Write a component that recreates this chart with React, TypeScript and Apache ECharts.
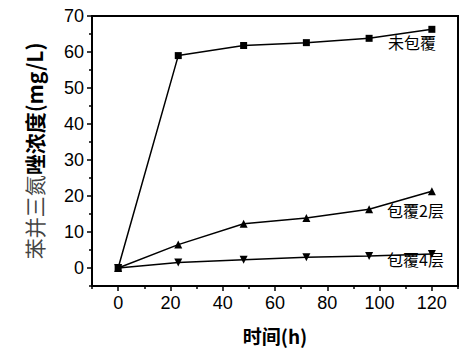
import React, { useEffect, useRef } from "react";
import * as echarts from "echarts";

const hours = [0, 23, 48, 72, 96, 120];
const uncoated = [0, 59.0, 61.8, 62.6, 63.8, 66.3];
const coated2 = [0, 6.5, 12.3, 13.9, 16.3, 21.3];
const coated4 = [0, 1.5, 2.3, 3.0, 3.3, 3.9];
const seriesNames = ["未包覆", "包覆2层", "包覆4层"];
const xMajor = [0, 20, 40, 60, 80, 100, 120];
const xMinor = [-10, 10, 30, 50, 70, 90, 110, 130];
const yMajor = [0, 10, 20, 30, 40, 50, 60, 70];
const yMinor = [-5, 5, 15, 25, 35, 45, 55, 65];

const pair = (ys: number[]) => hours.map((h, i) => [h, ys[i]]);

export default function App() {
  const ref = useRef<HTMLDivElement>(null);
  useEffect(() => {
    if (!ref.current) return;
    const chart = echarts.init(ref.current, undefined, { renderer: "svg" });
    const numFont = "'Liberation Sans', Arial, sans-serif";
    const cjk = "'Noto Sans CJK SC', sans-serif";
    const baseX = {
      type: "value" as const,
      min: -10,
      max: 130,
      splitLine: { show: false },
    };
    const baseY = {
      type: "value" as const,
      min: -5,
      max: 70,
      splitLine: { show: false },
    };
    const lineStyle = { color: "#000", width: 1.5 };
    chart.setOption({
      animation: false,
      backgroundColor: "#fff",
      grid: {
        left: 92,
        right: 15,
        top: 16,
        bottom: 67,
        show: true,
        borderColor: "#000",
        borderWidth: 2,
        backgroundColor: "transparent",
      },
      xAxis: [
        {
          ...baseX,
          position: "bottom",
          name: "时间(h)",
          nameLocation: "middle",
          nameGap: 40,
          nameTextStyle: {
            fontFamily: cjk,
            fontWeight: "bold",
            fontSize: 19,
            color: "#000",
          },
          axisLine: { show: true, onZero: false, lineStyle: { color: "#000", width: 2 } },
          axisTick: {
            show: true,
            inside: false,
            length: 5,
            customValues: xMajor,
            lineStyle: { color: "#000", width: 1.5 },
          },
          axisLabel: {
            customValues: xMajor,
            fontFamily: numFont,
            fontSize: 18,
            color: "#000",
            margin: 8,
          },
        },
        {
          ...baseX,
          position: "bottom",
          axisLine: { show: false, onZero: false },
          axisTick: {
            show: true,
            length: 3,
            customValues: xMinor,
            lineStyle: { color: "#000", width: 1.5 },
          },
          axisLabel: { show: false },
        },
      ],
      yAxis: [
        {
          ...baseY,
          position: "left",
          name: "{a|苯并三氮}{b|唑浓度(mg/L)}",
          nameLocation: "middle",
          nameGap: 48,
          nameTextStyle: {
            fontSize: 21,
            rich: {
              a: { fontFamily: cjk, fontSize: 21, color: "#444", fontWeight: "normal" },
              b: { fontFamily: cjk, fontSize: 21, color: "#000", fontWeight: "bold" },
            },
          },
          axisLine: { show: true, onZero: false, lineStyle: { color: "#000", width: 2 } },
          axisTick: {
            show: true,
            length: 5,
            customValues: yMajor,
            lineStyle: { color: "#000", width: 1.5 },
          },
          axisLabel: {
            customValues: yMajor,
            fontFamily: numFont,
            fontSize: 18,
            color: "#000",
            margin: 8,
          },
        },
        {
          ...baseY,
          position: "left",
          axisLine: { show: false, onZero: false },
          axisTick: {
            show: true,
            length: 3,
            customValues: yMinor,
            lineStyle: { color: "#000", width: 1.5 },
          },
          axisLabel: { show: false },
        },
      ],
      series: [
        {
          name: seriesNames[0],
          type: "line",
          data: pair(uncoated),
          symbol: "rect",
          symbolSize: 7,
          itemStyle: { color: "#000" },
          lineStyle,
        },
        {
          name: seriesNames[1],
          type: "line",
          data: pair(coated2),
          symbol: "triangle",
          symbolSize: 8,
          itemStyle: { color: "#000" },
          lineStyle,
        },
        {
          name: seriesNames[2],
          type: "line",
          data: pair(coated4),
          symbol: "triangle",
          symbolRotate: 180,
          symbolSize: 8,
          itemStyle: { color: "#000" },
          lineStyle,
        },
      ],
      graphic: [
        { type: "text", x: 388, y: 34, style: { text: seriesNames[0], font: `16px ${cjk}`, fill: "#000" } },
        { type: "text", x: 387, y: 202, style: { text: seriesNames[1], font: `16px ${cjk}`, fill: "#000" } },
        { type: "text", x: 387, y: 251, style: { text: seriesNames[2], font: `16px ${cjk}`, fill: "#000" } },
      ],
    });
    return () => chart.dispose();
  }, []);
  return <div ref={ref} style={{ width: 473, height: 353, position: "absolute", left: 0, top: 0 }} />;
}
